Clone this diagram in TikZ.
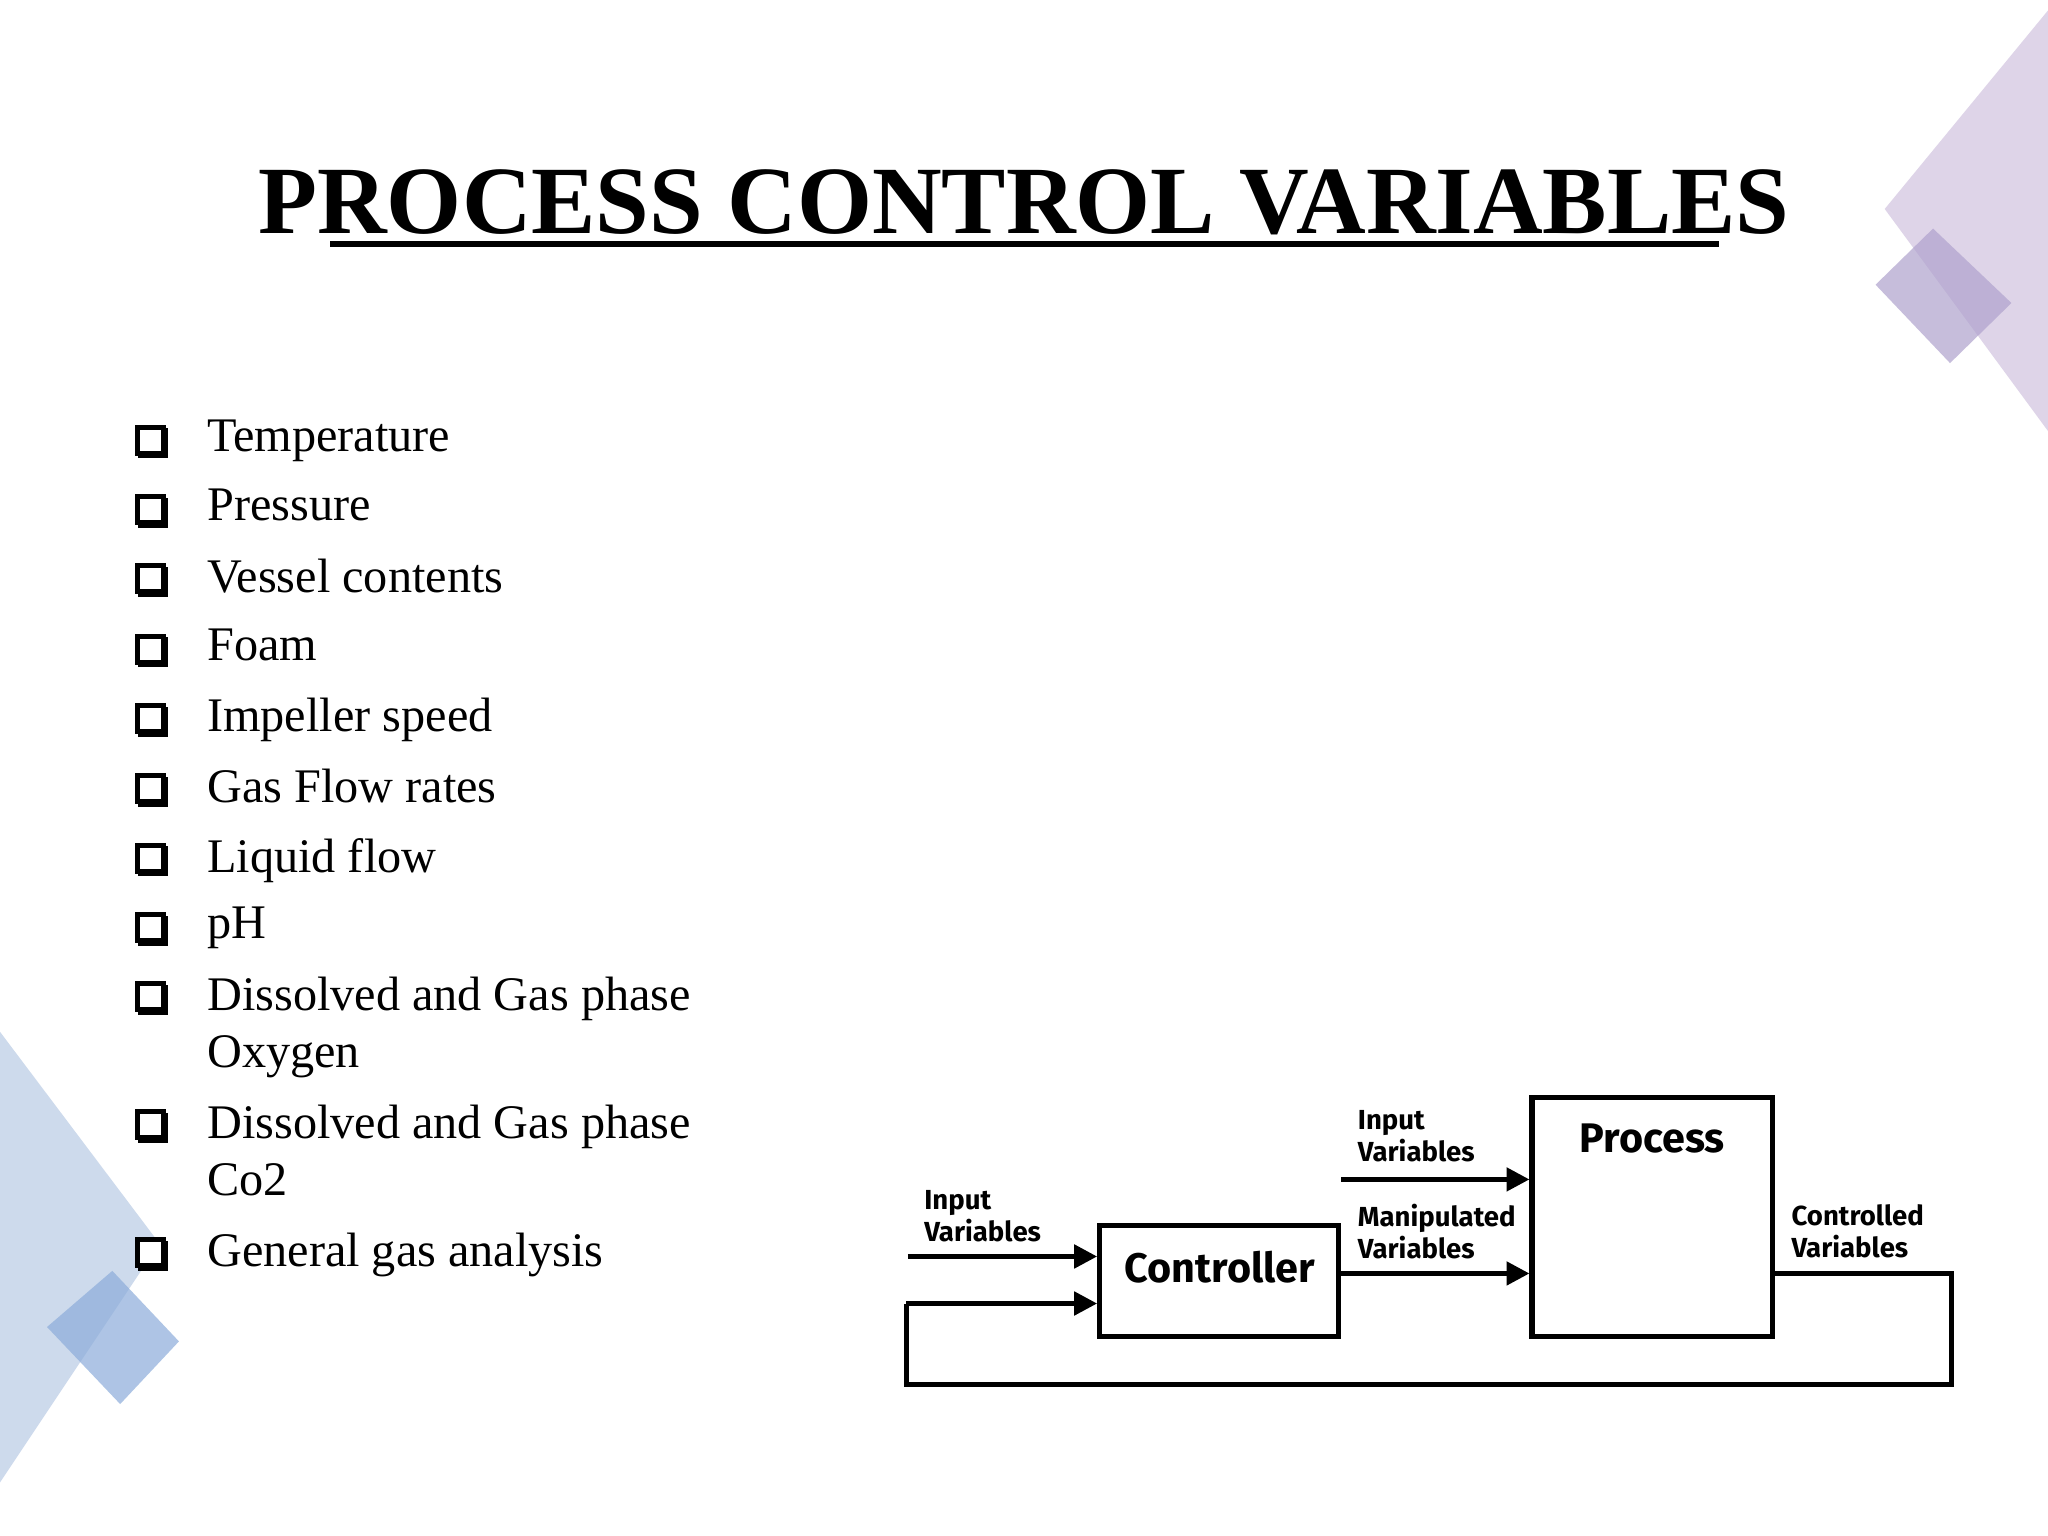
\documentclass[tikz,border=0pt]{standalone}
\usepackage{fontspec}
\setmainfont{Liberation Serif}
\newfontfamily\diagfont{Fira Sans}
\usetikzlibrary{arrows.meta}
\begin{document}
\begin{tikzpicture}[x=0.01cm,y=-0.01cm,
  bul/.style={draw=black,line width=1.1pt,fill=white,minimum size=0.2cm,inner sep=0pt},
  item/.style={anchor=west,font=\fontsize{10.5}{12.5}\selectfont,align=left,inner sep=0pt},
  blk/.style={draw=black,line width=1.1pt,inner sep=0pt},
  lab/.style={font=\diagfont\bfseries\fontsize{6}{7}\selectfont,align=left,anchor=west,inner sep=0pt},
  ar/.style={line width=1.1pt,-{Triangle[length=5pt,width=5pt]}},
  ln/.style={line width=1.1pt}]
\useasboundingbox (0,0) rectangle (1568,1176);
\fill[white] (0,0) rectangle (1568,1176);
% decorations
\fill[color={rgb,255:red,222;green,212;blue,232}] (1443,160) -- (1568,8) -- (1568,330) -- cycle;
\fill[color={rgb,255:red,175;green,162;blue,205},opacity=0.7] (1436,218) -- (1480,175) -- (1540,232) -- (1493,278) -- cycle;
\fill[color={rgb,255:red,205;green,218;blue,236}] (0,790) -- (122,952) -- (0,1135) -- cycle;
\fill[color={rgb,255:red,140;green,172;blue,218},opacity=0.7] (36,1016) -- (86,973) -- (137,1027) -- (92,1075) -- cycle;
% title
\node[font=\bfseries\fontsize{21}{24}\selectfont,inner sep=0pt] (title) at (784,155) {PROCESS CONTROL VARIABLES};
\draw[line width=1.3pt] (253,187) -- (1316,187);
% bullets
\foreach \y/\t [count=\i] in {337/Temperature,390/Pressure,443/Vessel contents,497/Foam,550/Impeller speed,604/Gas Flow rates,657/Liquid flow,710/pH,763/{Dissolved and Gas phase\\Oxygen},861/{Dissolved and Gas phase\\Co2},959/General gas analysis}{
  \fill[black] (106,\y-9) rectangle (129,\y+14);
  \node[bul] (b\i) at (115,\y) {};
  \node[item,anchor=north west] (t\i) at (158,\y-16) {\t};
}
% diagram
\node[blk,minimum width=1.83cm,minimum height=0.85cm] (ctrl) at (933.5,980.5) {};
\node[font=\diagfont\bfseries\fontsize{9}{10}\selectfont] (ctrlt) at (934,970) {Controller};
\node[blk,minimum width=1.84cm,minimum height=1.83cm] (proc) at (1265,931.5) {};
\node[font=\diagfont\bfseries\fontsize{9}{10}\selectfont] (proct) at (1265,872) {Process};
\coordinate (in1) at (695,962);
\coordinate (fb0) at (1494,975);
\coordinate (fb1) at (1494,1060);
\coordinate (fb2) at (694,1060);
\coordinate (fb3) at (694,998);
\draw[ar] (in1) -- (in1 -| ctrl.west);
\draw[ar] (fb3) -- (fb3 -| ctrl.west);
\draw[ln] (fb0 -| proc.east) -- (fb0) -- (fb1) -- (fb2) -- (fb3);
\draw[ar] (1027,903) -- (1027,903 -| proc.west);
\draw[ar] (ctrl.east |- 0,975) -- (proc.west |- 0,975);
\node[lab] (l1) at (707,931) {Input\\Variables};
\node[lab] (l2) at (1039,870) {Input\\Variables};
\node[lab] (l3) at (1039,943) {Manipulated\\Variables};
\node[lab] (l4) at (1371,943) {Controlled\\Variables};
\end{tikzpicture}
\end{document}
